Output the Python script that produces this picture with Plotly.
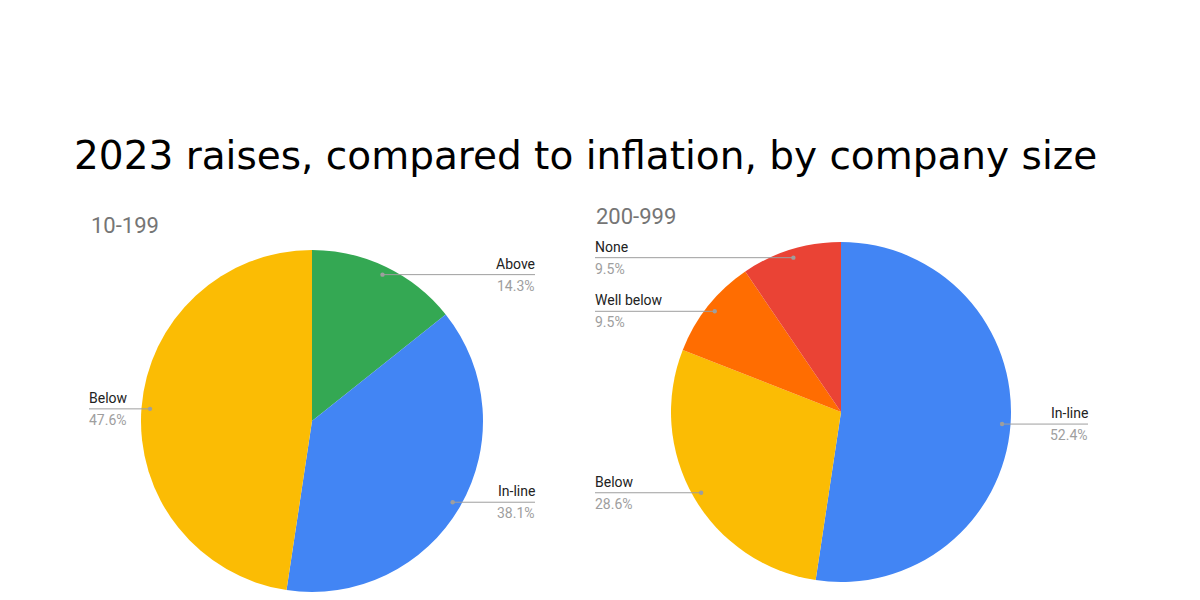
import math
import plotly.graph_objects as go

W, H = 1200, 600
OFF = 8  # page margin of the browser body

title = "2023 raises, compared to inflation, by company size"

small_name = "10-199"
small_labels = ["Above", "In-line", "Below"]
small_values = [3, 8, 10]
small_colors = ["#34A853", "#4285F4", "#FBBC04"]

mid_name = "200-999"
mid_labels = ["In-line", "Below", "Well below", "None"]
mid_values = [11, 6, 2, 2]
mid_colors = ["#4285F4", "#FBBC04", "#FF6D01", "#EA4335"]

# pie boxes in pixels: (cx, cy, r), label columns (left x, right x), subtitle position
pies = [
    (small_name, small_labels, small_values, small_colors, (312, 421, 171), (89, 535), (89, 226)),
    (mid_name, mid_labels, mid_values, mid_colors, (841, 412, 170), (595, 1088), (594, 216)),
]

fig = go.Figure()
shapes = []
annotations = []

def px(x):
    return (x - OFF) / W

def py(y):
    return 1 - (y - OFF) / H

for name, labels, values, colors, (cx, cy, r), (lx, rx), (tx, ty) in pies:
    fig.add_trace(go.Pie(
        labels=labels, values=values, sort=False, direction="clockwise", rotation=0,
        marker=dict(colors=colors, line=dict(width=0)), textinfo="none",
        showlegend=False, hoverinfo="label+percent",
        domain=dict(x=[px(cx - r), px(cx + r)], y=[py(cy + r), py(cy - r)]),
    ))
    annotations.append(dict(x=px(tx), y=py(ty), xref="paper", yref="paper", text=name,
                            showarrow=False, xanchor="left", yanchor="middle",
                            font=dict(family="Roboto", size=22, color="#757575")))
    total = sum(values)
    cum = 0
    for lab, v in zip(labels, values):
        frac = v / total
        mid = (cum + frac / 2) * 2 * math.pi
        cum += frac
        dx = cx + 0.95 * r * math.sin(mid)
        dy = cy - 0.95 * r * math.cos(mid)
        right = math.sin(mid) > 0
        ex = rx if right else lx
        shapes.append(dict(type="line", xref="paper", yref="paper",
                           x0=px(dx), x1=px(ex), y0=py(dy), y1=py(dy),
                           line=dict(color="#9e9e9e", width=1)))
        shapes.append(dict(type="circle", xref="paper", yref="paper",
                           x0=px(dx - 2.2), x1=px(dx + 2.2), y0=py(dy + 2.2), y1=py(dy - 2.2),
                           fillcolor="#9e9e9e", line=dict(width=0)))
        anchor = "right" if right else "left"
        annotations.append(dict(x=px(ex), y=py(dy - 1), xref="paper", yref="paper", text=lab,
                                showarrow=False, xanchor=anchor, yanchor="bottom",
                                xshift=2 if right else -2,
                                font=dict(family="Roboto", size=14, color="#222222")))
        annotations.append(dict(x=px(ex), y=py(dy + 1), xref="paper", yref="paper",
                                text=f"{frac * 100:.1f}%",
                                showarrow=False, xanchor=anchor, yanchor="top",
                                xshift=2 if right else -2,
                                font=dict(family="Roboto", size=14, color="#9e9e9e")))

annotations.append(dict(x=px(585), y=py(155), xref="paper", yref="paper", text=title,
                        showarrow=False, xanchor="center", yanchor="middle",
                        font=dict(family="DejaVu Sans", size=39, color="#000000")))

fig.update_layout(width=W, height=H, margin=dict(l=0, r=0, t=0, b=0),
                  paper_bgcolor="white", plot_bgcolor="white",
                  shapes=shapes, annotations=annotations)

fig.write_html("out.html")
